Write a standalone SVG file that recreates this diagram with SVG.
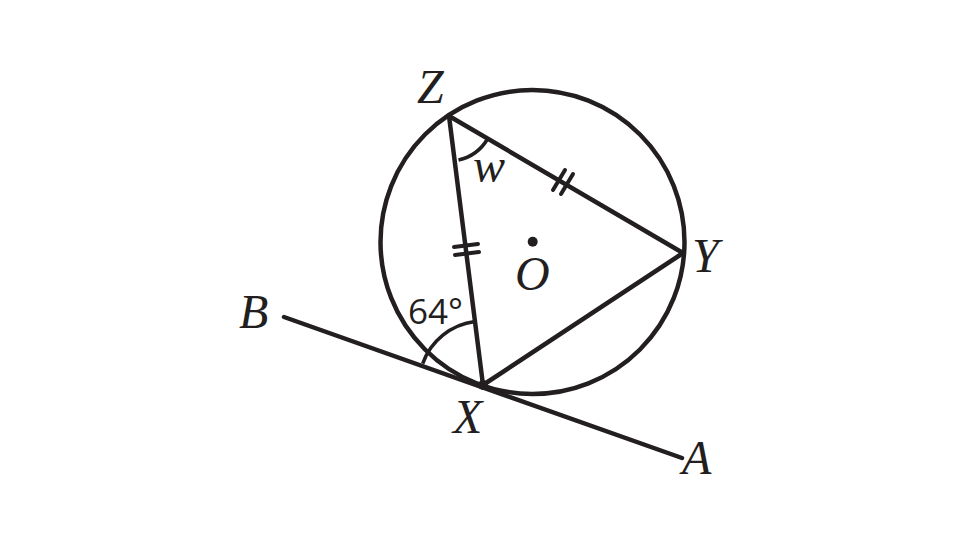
<svg xmlns="http://www.w3.org/2000/svg" width="976" height="549" viewBox="0 0 976 549">
<style>
.ln{stroke:#231f20;stroke-width:4.5;fill:none;stroke-linecap:round}
.arc{stroke:#231f20;stroke-width:3.5;fill:none}
.lbl{font-family:"Liberation Serif",serif;font-style:italic;font-size:48px;fill:#231f20}
.num{font-family:"Open Sans","Noto Sans",sans-serif;font-size:35px;fill:#231f20}
</style>
<rect width="976" height="549" fill="#fff"/>
<g id="circle"><circle cx="532.5" cy="242" r="152" class="ln"/></g>
<g id="connectors">
<line x1="284" y1="317" x2="682" y2="458" class="ln"/>
<line x1="449" y1="116" x2="483" y2="385" class="ln"/>
<line x1="449" y1="116" x2="683" y2="253" class="ln"/>
<line x1="683" y1="253" x2="483" y2="385" class="ln"/>
<path d="M458.5,160 A45,45 0 0 0 487.5,139" class="arc"/>
<path d="M422.7,363.6 A64,64 0 0 1 475,321.5" class="arc"/>
<g class="ln" style="stroke-width:4">
<line x1="454" y1="247" x2="478" y2="244"/>
<line x1="455" y1="255" x2="479" y2="252"/>
<line x1="553" y1="190" x2="565" y2="170"/>
<line x1="561" y1="194" x2="573" y2="174"/>
</g>
</g>
<g id="O"><circle cx="532.7" cy="241.7" r="5" fill="#231f20"/><text x="515" y="290" class="lbl">O</text></g>
<g id="Z"><text x="417" y="103" class="lbl">Z</text></g>
<g id="Y"><text x="692" y="272" class="lbl">Y</text></g>
<g id="X"><circle cx="483" cy="385" r="5" fill="#231f20"/><text x="453" y="433" class="lbl">X</text></g>
<g id="A"><text x="682" y="474" class="lbl">A</text></g>
<g id="B"><text x="239" y="328" class="lbl">B</text></g>
<g id="w"><text x="473" y="182" class="lbl">w</text></g>
<g id="angle64"><text x="408" y="324" class="num">64°</text></g>
</svg>
